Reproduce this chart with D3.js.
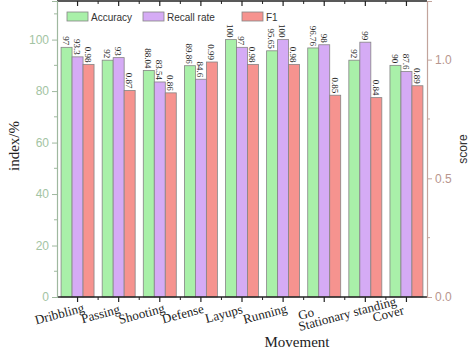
<!DOCTYPE html>
<html>
<head>
<meta charset="utf-8">
<script src="https://cdn.jsdelivr.net/npm/d3@7"></script>
<style>
    body { margin: 0; background: #fff; }
    svg { display: block; }
</style>
</head>
<body>
<div id="chart"></div>
<script>
// data
const categories = ["Dribbling", "Passing", "Shooting", "Defense", "Layups", "Running", "Go", "Stationary standing", "Cover"];
const accuracy = [97, 92, 88.04, 89.86, 100, 95.65, 96.76, 92, 90];
const recall = [93.3, 93, 83.54, 84.6, 97, 100, 98, 99, 87.6];
const f1 = [0.98, 0.87, 0.86, 0.99, 0.98, 0.98, 0.85, 0.84, 0.89];
const seriesNames = ["Accuracy", "Recall rate", "F1"];
const leftTicks = [0, 20, 40, 60, 80, 100];
const rightTicks = [0, 0.5, 1.0];

const width = 474, height = 353;
const margin = { top: 1, right: 47, bottom: 56, left: 57 };
const colors = { "Accuracy": "#a9f0a9", "Recall rate": "#d5abf5", "F1": "#f6938f" };

const svg = d3.select("#chart").append("svg")
    .attr("width", width)
    .attr("height", height);

const x = d3.scaleBand()
    .domain(categories)
    .range([margin.left, width - margin.right])
    .padding(0);

const xSub = d3.scaleBand()
    .domain(seriesNames)
    .range([0, x.bandwidth()])
    .paddingInner(0)
    .paddingOuter(0.37);

const yL = d3.scaleLinear().domain([0, 115]).range([height - margin.bottom, margin.top]);
const yR = d3.scaleLinear().domain([0, 1.247]).range([height - margin.bottom, margin.top]);

// rows for the bars
const rows = [];
categories.forEach((c, i) => {
    rows.push({ cat: c, key: "Accuracy", value: accuracy[i], y: yL(accuracy[i]), label: String(accuracy[i]) });
    rows.push({ cat: c, key: "Recall rate", value: recall[i], y: yL(recall[i]), label: String(recall[i]) });
    rows.push({ cat: c, key: "F1", value: f1[i], y: yR(f1[i]), label: f1[i].toFixed(2) });
});

const y0 = height - margin.bottom;

svg.append("g")
    .selectAll("rect")
    .data(rows)
    .enter().append("rect")
    .attr("x", d => x(d.cat) + xSub(d.key))
    .attr("width", xSub.bandwidth())
    .attr("y", d => d.y)
    .attr("height", d => y0 - d.y)
    .attr("fill", d => colors[d.key])
    .attr("stroke", "#858585")
    .attr("stroke-width", 0.8);

// value labels, rotated
svg.append("g")
    .selectAll("text")
    .data(rows)
    .enter().append("text")
    .attr("transform", d => `translate(${x(d.cat) + xSub(d.key) + xSub.bandwidth() / 2 - 0.5},${d.y - 2}) rotate(90)`)
    .attr("text-anchor", "end")
    .attr("dy", "0.35em")
    .style("font-family", "'Liberation Serif', 'Times New Roman', serif")
    .style("font-size", "9px")
    .style("fill", "#222")
    .text(d => d.label);

// bottom axis
const minorX = categories.slice(1).map(c => x(c));
const bottomG = svg.append("g")
    .attr("transform", `translate(0,${y0})`);
bottomG.append("line")
    .attr("x1", margin.left).attr("x2", width - margin.right)
    .attr("stroke", "#222").attr("stroke-width", 1.5);
bottomG.selectAll(".maj").data(categories).enter().append("line")
    .attr("x1", d => x(d) + x.bandwidth() / 2).attr("x2", d => x(d) + x.bandwidth() / 2)
    .attr("y1", 0).attr("y2", 5).attr("stroke", "#222").attr("stroke-width", 1.2);
bottomG.selectAll(".min").data(minorX).enter().append("line")
    .attr("x1", d => d).attr("x2", d => d)
    .attr("y1", 0).attr("y2", 3).attr("stroke", "#222").attr("stroke-width", 1);
bottomG.selectAll("text").data(categories).enter().append("text")
    .attr("transform", d => `translate(${x(d) + x.bandwidth() / 2 - 17},${21}) rotate(-15)`)
    .attr("text-anchor", "middle")
    .style("font-family", "'Liberation Serif', 'Times New Roman', serif")
    .style("font-size", "13px")
    .style("fill", "#222")
    .text(d => d);

// top frame
const topG = svg.append("g").attr("transform", `translate(0,${margin.top})`);
topG.append("line")
    .attr("x1", margin.left).attr("x2", width - margin.right)
    .attr("stroke", "#222").attr("stroke-width", 1.5);
topG.selectAll(".maj").data(categories).enter().append("line")
    .attr("x1", d => x(d) + x.bandwidth() / 2).attr("x2", d => x(d) + x.bandwidth() / 2)
    .attr("y1", 0).attr("y2", 5).attr("stroke", "#222").attr("stroke-width", 1.2);
topG.selectAll(".min").data(minorX).enter().append("line")
    .attr("x1", d => d).attr("x2", d => d)
    .attr("y1", 0).attr("y2", 3).attr("stroke", "#222").attr("stroke-width", 1);

// left axis
const leftAxis = svg.append("g")
    .attr("transform", `translate(${margin.left},0)`)
    .call(d3.axisLeft(yL).tickValues(leftTicks).tickSize(5).tickPadding(3));
leftAxis.selectAll(".minor").data(d3.range(10, 115, 20)).enter().append("line")
    .attr("y1", d => yL(d)).attr("y2", d => yL(d))
    .attr("x1", 0).attr("x2", -3).attr("stroke", "#9fb89f");
leftAxis.select(".domain").attr("stroke", "#9fb89f").attr("stroke-width", 1.2);
leftAxis.selectAll(".tick line").attr("stroke", "#9fb89f");
leftAxis.selectAll(".tick text")
    .style("font-family", "'Liberation Sans', Arial, sans-serif")
    .style("font-size", "12px")
    .style("fill", "#a3c4a3");

// right axis
const rightAxis = svg.append("g")
    .attr("transform", `translate(${width - margin.right},0)`)
    .call(d3.axisRight(yR).tickValues(rightTicks).tickFormat(d3.format(".1f")).tickSize(5).tickPadding(3));
rightAxis.selectAll(".minor").data([0.25, 0.75]).enter().append("line")
    .attr("y1", d => yR(d)).attr("y2", d => yR(d))
    .attr("x1", 0).attr("x2", 3).attr("stroke", "#c2a49c");
rightAxis.select(".domain").attr("stroke", "#c2a49c").attr("stroke-width", 1.2);
rightAxis.selectAll(".tick line").attr("stroke", "#c2a49c");
rightAxis.selectAll(".tick text")
    .style("font-family", "'Liberation Sans', Arial, sans-serif")
    .style("font-size", "12px")
    .style("fill", "#b8968e");

// axis titles
svg.append("text")
    .attr("transform", `translate(${(margin.left + width - margin.right) / 2 + 55},${height - 6})`)
    .attr("text-anchor", "middle")
    .style("font-family", "'Liberation Serif', 'Times New Roman', serif")
    .style("font-size", "15px")
    .style("fill", "#222")
    .text("Movement");

svg.append("text")
    .attr("transform", `translate(19,${(margin.top + y0) / 2 - 3}) rotate(-90)`)
    .attr("text-anchor", "middle")
    .style("font-family", "'Liberation Serif', 'Times New Roman', serif")
    .style("font-size", "15px")
    .style("fill", "#222")
    .text("index/%");

svg.append("text")
    .attr("transform", `translate(467,${(margin.top + y0) / 2}) rotate(-90)`)
    .attr("text-anchor", "middle")
    .style("font-family", "'Liberation Sans', Arial, sans-serif")
    .style("font-size", "12px")
    .style("fill", "#333")
    .text("score");

// legend
const legendX = [67, 143, 242];
const legend = svg.append("g")
    .selectAll("g")
    .data(seriesNames)
    .enter().append("g")
    .attr("transform", (d, i) => `translate(${legendX[i]},12)`);
legend.append("rect")
    .attr("width", 21).attr("height", 9)
    .attr("fill", d => colors[d])
    .attr("stroke", "#858585").attr("stroke-width", 0.8);
legend.append("text")
    .attr("x", 24).attr("y", 8.5)
    .style("font-family", "'Liberation Sans', Arial, sans-serif")
    .style("font-size", "10px")
    .style("fill", "#333")
    .text(d => d);
</script>
</body>
</html>
